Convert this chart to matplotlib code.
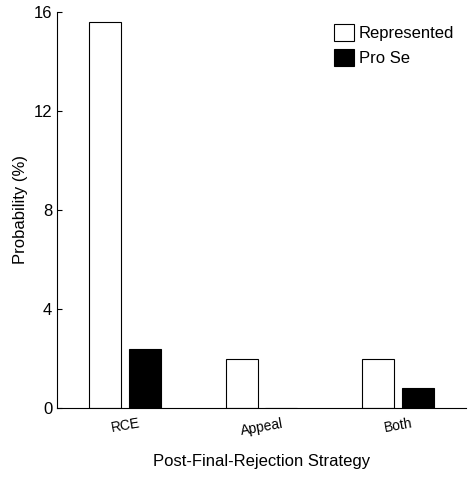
import matplotlib
matplotlib.use("Agg")
import matplotlib.pyplot as plt
import numpy as np

plt.rcParams["font.family"] = ["Liberation Sans", "DejaVu Sans"]

categories = ["RCE", "Appeal", "Both"]
represented = [15.6, 2.0, 2.0]
pro_se = [2.4, 0.0, 0.8]
yticks = [0, 4, 8, 12, 16]

fig = plt.figure(figsize=(4.74, 4.79), dpi=100)
ax = fig.add_axes([57 / 474, 1 - 408 / 479, 409 / 474, 396 / 479])

x = np.arange(len(categories))
w = 0.235
ax.bar(x - 0.145, represented, w, color="white", edgecolor="black", linewidth=0.8, label="Represented")
ax.bar(x + 0.145, pro_se, w, color="black", edgecolor="black", linewidth=0.8, label="Pro Se")

ax.set_xlim(-0.5, 2.5)
ax.set_ylim(0, 16)
ax.set_yticks(yticks)
ax.set_xticks(x)
ax.set_xticklabels(categories, rotation=10, fontsize=10)
ax.tick_params(axis="y", direction="in", labelsize=12)
ax.tick_params(axis="x", length=0, pad=6)
ax.spines["top"].set_visible(False)
ax.spines["right"].set_visible(False)
ax.set_ylabel("Probability (%)", fontsize=12)
ax.set_xlabel("Post-Final-Rejection Strategy", fontsize=12, labelpad=12)
ax.legend(loc="upper right", frameon=False, fontsize=12, handlelength=1.2,
          handleheight=1.2, borderaxespad=0.3, handletextpad=0.3)

fig.savefig("out.png", dpi=100)
